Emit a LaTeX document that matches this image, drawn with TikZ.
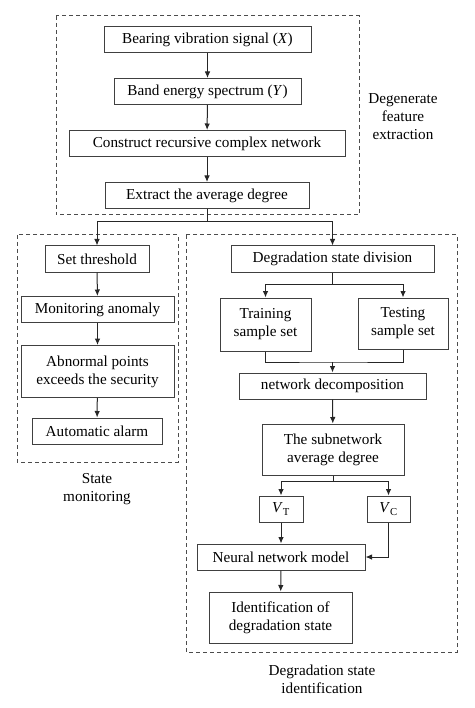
\documentclass[tikz,border=0pt]{standalone}
\usepackage{fontspec}
\setmainfont{Liberation Serif}
\usepackage{tikz}
\usetikzlibrary{arrows.meta,positioning}

\begin{document}
\begin{tikzpicture}[
  x=1pt, y=-1pt,
  font=\fontsize{15.2}{18}\selectfont,
  box/.style={rectangle, draw=black!75, line width=1pt, align=center, inner sep=2pt, minimum height=26pt},
  tall/.style={box, minimum height=52pt},
  group/.style={draw=black!70, line width=1pt, dash pattern=on 4pt off 3pt},
  arr/.style={-{Latex[length=6.5pt,width=5.5pt]}, draw=black!85, line width=1pt},
  line/.style={draw=black!85, line width=1pt},
  lab/.style={align=center}
]
\useasboundingbox (0,0) rectangle (474,708);

% feature extraction
\node[box, minimum width=207pt] (sig) at (207.5,40) {Bearing vibration signal (\textit{X})};
\node[box, minimum width=187pt] (band) at (207.5,91.5) {Band energy spectrum (\textit{Y})};
\node[box, minimum width=276pt] (crn) at (207,143.5) {Construct recursive complex network};
\node[box, minimum width=204pt] (ext) at (207,195.5) {Extract the average degree};
\draw[group] (56,16) rectangle (359,215);
\node[lab] (featlab) at (403,117) {Degenerate\\feature\\extraction};

% state monitoring
\node[box, minimum width=104pt] (thr) at (97,259) {Set threshold};
\node[box, minimum width=153pt] (mon) at (97.5,309.5) {Monitoring anomaly};
\node[tall, minimum width=153pt] (abn) at (97.5,371.5) {Abnormal points\\exceeds the security};
\node[box, minimum width=130pt] (alarm) at (97,431) {Automatic alarm};
\draw[group] (17,235) rectangle (178,462);
\node[lab] (monlab) at (97,489) {State\\monitoring};

% degradation state identification
\node[box, minimum width=203pt] (div) at (332.5,259) {Degradation state division};
\node[box, minimum width=91pt, minimum height=53pt] (train) at (265.5,324.5) {Training\\sample set};
\node[box, minimum width=90pt, minimum height=51pt] (test) at (403,323.5) {Testing\\sample set};
\node[box, minimum width=187pt] (dec) at (332.5,386) {network decomposition};
\node[tall, minimum width=142pt, minimum height=51pt] (sub) at (333,449.5) {The subnetwork\\average degree};
\node[box, minimum width=44pt] (vt) at (281,509) {\textit{V}\textsubscript{T}};
\node[box, minimum width=43pt] (vc) at (388.5,509) {\textit{V}\textsubscript{C}};
\node[box, minimum width=168pt] (nn) at (281,557) {Neural network model};
\node[tall, minimum width=143pt, minimum height=51pt] (ident) at (280.5,617.5) {Identification of\\degradation state};
\draw[group] (186,235) rectangle (457,652);
\node[lab] (idlab) at (322,679) {Degradation state\\identification};

\coordinate (merge) at (332.5,362);

\draw[arr] (sig) -- (band);
\draw[arr] (band) -- (crn);
\draw[arr] (crn) -- (ext);
\draw[arr] (ext.south) -- ++(0,13) -| (thr.north);
\draw[arr] (ext.south) -- ++(0,13) -| (div.north);

\draw[arr] (thr) -- (mon);
\draw[arr] (mon) -- (abn);
\draw[arr] (abn) -- (alarm);

\draw[arr] (div.south) -- ++(0,12) -| (train.north);
\draw[arr] (div.south) -- ++(0,12) -| (test.north);
\draw[line] (train.south) |- (merge) -| (test.south);
\draw[arr] (merge) -- (dec);
\draw[arr] (dec) -- (sub);
\draw[arr] (sub.south) -- ++(0,6) -| (vt.north);
\draw[arr] (sub.south) -- ++(0,6) -| (vc.north);
\draw[arr] (vt) -- (nn);
\draw[arr] (vc.south) |- (nn.east);
\draw[arr] (nn) -- (ident);
\end{tikzpicture}
\end{document}
